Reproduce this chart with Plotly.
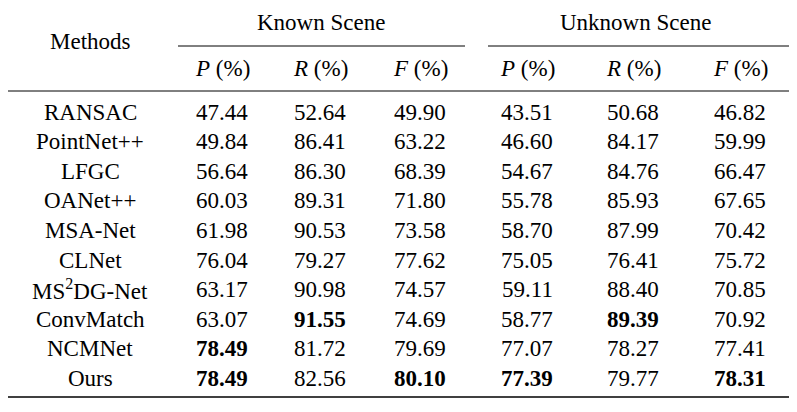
import plotly.graph_objects as go

methods = ["RANSAC", "PointNet++", "LFGC", "OANet++", "MSA-Net", "CLNet",
           "MS<sup>2</sup>DG-Net", "ConvMatch", "NCMNet", "Ours"]
known_P = [47.44, 49.84, 56.64, 60.03, 61.98, 76.04, 63.17, 63.07, 78.49, 78.49]
known_R = [52.64, 86.41, 86.30, 89.31, 90.53, 79.27, 90.98, 91.55, 81.72, 82.56]
known_F = [49.90, 63.22, 68.39, 71.80, 73.58, 77.62, 74.57, 74.69, 79.69, 80.10]
unk_P = [43.51, 46.60, 54.67, 55.78, 58.70, 75.05, 59.11, 58.77, 77.07, 77.39]
unk_R = [50.68, 84.17, 84.76, 85.93, 87.99, 76.41, 88.40, 89.39, 78.27, 79.77]
unk_F = [46.82, 59.99, 66.47, 67.65, 70.42, 75.72, 70.85, 70.92, 77.41, 78.31]
columns = [known_P, known_R, known_F, unk_P, unk_R, unk_F]
sub_headers = ["<i>P</i> (%)", "<i>R</i> (%)", "<i>F</i> (%)"] * 2
groups = ["Known Scene", "Unknown Scene"]
bold = {(7, 1), (7, 4), (8, 0), (9, 0), (9, 2), (9, 3), (9, 5)}

W, H = 797, 412
D = 8
col_x = [x - D for x in [222, 320, 420, 527, 633, 740]]
meth_x = 90 - D
row_y0, row_dy = 112 - D, 29.6
FS = 23
font = dict(family="Liberation Serif", size=FS, color="black")

fig = go.Figure()
ann = []
ann.append(dict(x=meth_x, y=41 - D, text="Methods"))
ann.append(dict(x=321 - D, y=22 - D, text=groups[0]))
ann.append(dict(x=635 - D, y=22 - D, text=groups[1]))
for i, h in enumerate(sub_headers):
    ann.append(dict(x=col_x[i], y=68 - D, text=h))
for r, m in enumerate(methods):
    y = row_y0 + r * row_dy
    ann.append(dict(x=meth_x, y=y, text=m))
    for c, col in enumerate(columns):
        t = f"{col[r]:.2f}"
        if (r, c) in bold:
            t = f"<b>{t}</b>"
        ann.append(dict(x=col_x[c], y=y, text=t))
fig.update_layout(annotations=[dict(a, xref="x", yref="y", showarrow=False,
                                    font=font, xanchor="center", yanchor="middle") for a in ann])

lines = [(3, 5, 794, 1.5), (178, 46, 465, 1), (488, 46, 790, 1), (3, 91, 794, 1), (3, 397, 794, 1.5)]
for x0, y, x1, w in lines:
    fig.add_shape(type="line", x0=x0 - D, x1=x1 - D, y0=y - D, y1=y - D, xref="x", yref="y",
                  line=dict(color="black", width=w))

fig.update_layout(width=W, height=H, margin=dict(l=0, r=0, t=0, b=0),
                  plot_bgcolor="white", paper_bgcolor="white",
                  xaxis=dict(range=[0, W], visible=False),
                  yaxis=dict(range=[H, 0], visible=False), showlegend=False)
fig.write_html("out.html")
